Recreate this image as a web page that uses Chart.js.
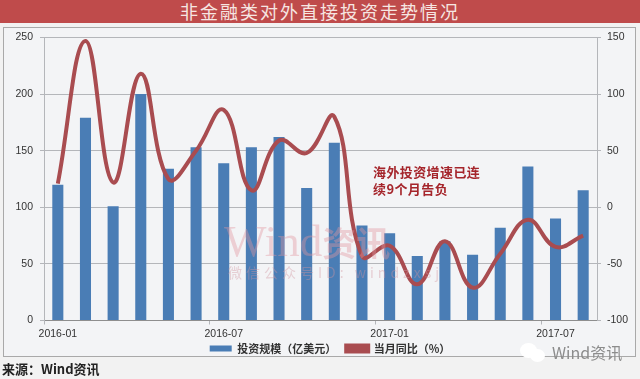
<!DOCTYPE html>
<html>
<head>
<meta charset="utf-8">
<script src="https://cdn.jsdelivr.net/npm/chart.js@4"></script>
<style>
  html, body { margin: 0; padding: 0; background: #f2f2f2; }
  body { width: 640px; height: 379px; position: relative; overflow: hidden; font-family: "Noto Sans CJK SC", sans-serif; }
  #banner { position: absolute; left: 0; top: 0; width: 640px; height: 23px; background: #bf4b4b; color: #f6e6e2;
            text-align: center; font-size: 18px; line-height: 23px; letter-spacing: 2px; }
  #frame { position: absolute; left: 3px; top: 27px; width: 633px; height: 330px; box-sizing: border-box; border: 1px solid #a9a9a9; background: #f3f4f6; }
  #wrap { position: absolute; left: 0; top: 0; width: 640px; height: 379px; }
  #source { position: absolute; left: 2px; top: 360px; font-size: 13px; font-weight: 700; line-height: 18px; color: #222; }
  #note { position: absolute; left: 373px; top: 163px; width: 112px; font-size: 13px; font-weight: 700; line-height: 17px; letter-spacing: 0.4px; color: #a5252b; }
  #markWind { position: absolute; left: 224px; top: 219px; font-family: "Liberation Serif", serif; font-size: 45px; line-height: 44px; color: rgba(226,150,160,0.4); white-space: nowrap; }
  #markWind span { font-family: "Noto Sans CJK SC", sans-serif; font-size: 34px; font-weight: 700; }
  #markId { position: absolute; left: 228px; top: 264px; font-size: 14px; line-height: 16px; color: rgba(210,150,160,0.4); white-space: nowrap; letter-spacing: 4px; }
  #brand { position: absolute; left: 552px; top: 342px; font-size: 16px; line-height: 20px; color: #8c8c8c; white-space: nowrap; }
  .bubble { position: absolute; background: #fff; border-radius: 50%; }
</style>
</head>
<body>
<div id="banner">非金融类对外直接投资走势情况</div>
<div id="frame"></div>
<div id="wrap"><canvas id="chart" width="640" height="379"></canvas></div>
<div id="markWind">Wind<span>资讯</span></div>
<div id="markId">微信公众号ID: windzxsj</div>
<div id="note">海外投资增速已连<br>续9个月告负</div>
<div id="source">来源：Wind资讯</div>
<div class="bubble" style="left:520px;top:343px;width:17px;height:15px"></div>
<div class="bubble" style="left:530px;top:349px;width:15px;height:13px"></div>
<div id="brand">Wind资讯</div>
<script>
const months = ['2016-01','2016-02','2016-03','2016-04','2016-05','2016-06','2016-07','2016-08','2016-09','2016-10','2016-11','2016-12',
                '2017-01','2017-02','2017-03','2017-04','2017-05','2017-06','2017-07','2017-08'];
const investment = [120,179,101,200,134,153,139,153,162,117,157,84,77,57,70,58,82,136,90,115];
const yoy = [21,147,22,118,25,50,86,15,59,48,80,-43,-34,-68,-30,-71,-41,-11,-35,-25];
const leftTicks = [0,50,100,150,200,250];
const rightTicks = [-100,-50,0,50,100,150];

const gridGrey = '#b4b6ba';
const tickFont = { family: '"Liberation Sans", sans-serif', size: 10.5 };

new Chart(document.getElementById('chart'), {
    type: 'bar',
    data: {
        labels: months,
        datasets: [
            { type: 'line', label: '当月同比（%）', data: yoy, yAxisID: 'y2', borderColor: '#a94c50', backgroundColor: '#a94c50',
              borderWidth: 4, tension: 0.42, pointRadius: 0, order: 1 },
            { type: 'bar', label: '投资规模（亿美元）', data: investment, yAxisID: 'y', backgroundColor: '#4a7db5',
              barPercentage: 0.4, categoryPercentage: 1, order: 2 }
        ]
    },
    options: {
        responsive: false,
        animation: false,
        layout: { padding: { left: 0, right: 0, top: 37.5, bottom: 8.5 } },
        plugins: {
            tooltip: { enabled: false },
            legend: {
                position: 'bottom',
                reverse: true,
                labels: { boxWidth: 22, boxHeight: 6, padding: 10, color: '#333',
                          font: { family: '"Noto Sans CJK SC", sans-serif', size: 11, weight: 'bold' } }
            }
        },
        scales: {
            x: {
                afterFit: s => { s.height = 19; },
                grid: {
                    offset: true, drawOnChartArea: false, tickLength: 4,
                    tickColor: c => (c.index % 6 === 0 ? gridGrey : 'transparent')
                },
                border: { color: '#8e8e8e' },
                ticks: {
                    autoSkip: false, maxRotation: 0, color: '#333', font: tickFont, padding: 3,
                    callback: function (v, i) { return i % 6 === 0 ? this.getLabelForValue(v) : ''; }
                }
            },
            y: {
                min: 0, max: 250,
                afterFit: s => { s.width = 44; },
                afterBuildTicks: s => { s.ticks = leftTicks.map(v => ({ value: v })); },
                grid: { color: gridGrey, tickLength: 4 },
                border: { color: gridGrey },
                ticks: { color: '#333', font: tickFont, padding: 7 }
            },
            y2: {
                position: 'right', min: -100, max: 150,
                afterFit: s => { s.width = 43; },
                afterBuildTicks: s => { s.ticks = rightTicks.map(v => ({ value: v })); },
                grid: { drawOnChartArea: false, color: gridGrey, tickLength: 4 },
                border: { color: gridGrey },
                ticks: { color: '#333', font: tickFont, padding: 6 }
            }
        }
    },
    plugins: [{
        // the legend sits right of centre and closer to the axis in the original
        id: 'nudgeLegend',
        afterLayout(chart) { chart.legend.left += 20; chart.legend.top -= 6.5; }
    }]
});
</script>
</body>
</html>
